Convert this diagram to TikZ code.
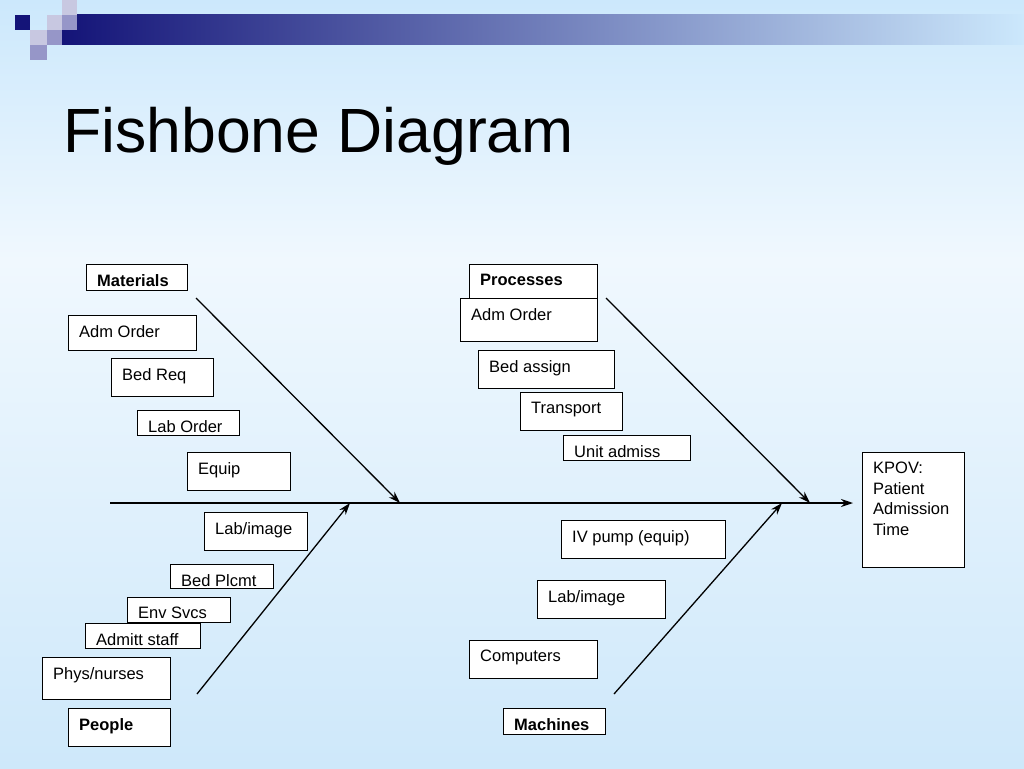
\documentclass[tikz,border=0pt]{standalone}
\usepackage{fontspec}
\setmainfont{Liberation Sans}
\usetikzlibrary{positioning,arrows.meta}
\tikzset{>={Stealth[length=12pt,width=8pt]}}
\definecolor{bgtop}{RGB}{204,232,252}
\definecolor{bgmid}{RGB}{240,248,254}
\definecolor{bgbot}{RGB}{206,232,250}
\definecolor{navy}{RGB}{20,20,120}
\definecolor{lav}{RGB}{200,200,225}
\definecolor{lavmid}{RGB}{150,150,200}
\tikzset{
  box/.style={draw,fill=white,line width=1pt,anchor=north west,inner sep=0pt},
  boxtext/.style={anchor=north west,inner xsep=11pt,inner ysep=10pt,font=\fontsize{16.5}{20.5}\selectfont},
  bone/.style={->,line width=1.3pt,black}
}
% box with text at its top left corner
\newcommand{\catbox}[6]{%
  \node[box,minimum width=#4,minimum height=#5,
    label={[boxtext]north west:#6}] (#1) at (#2,#3) {};}

\begin{document}
\begin{tikzpicture}[x=1pt,y=-1pt]
\useasboundingbox (0,0) rectangle (1024,768);
% background
\shade[top color=bgtop,bottom color=bgmid] (0,0) rectangle (1024,260);
\shade[top color=bgmid,bottom color=bgbot] (0,260) rectangle (1024,768);

% corner ornament
\shade[left color=navy,right color=bgtop] (62,15) rectangle (1024,45);
\fill[lav] (62,0) rectangle (77,15);
\fill[lav] (47,15) rectangle (62,30);
\fill[lavmid] (62,15) rectangle (77,30);
\fill[navy] (15,15) rectangle (30,30);
\fill[lav] (30,30) rectangle (47,45);
\fill[lavmid] (47,30) rectangle (62,45);
\fill[lavmid] (30,45) rectangle (47,60);

% title
\node[anchor=base west,inner sep=0pt,font=\fontsize{62.5}{66}\selectfont] (title) at (63,152) {Fishbone Diagram};

% spine and bones
\coordinate (tail) at (110,503);
\coordinate (head) at (853,503);
\coordinate (m1) at (196,298); \coordinate (m2) at (400,503);
\coordinate (p1) at (606,298); \coordinate (p2) at (810,503);
\coordinate (q1) at (197,694); \coordinate (q2) at (350,503);
\coordinate (c1) at (614,694); \coordinate (c2) at (782,503);
\draw[bone] (tail) -- (head);
\draw[bone] (m1) -- (m2);
\draw[bone] (p1) -- (p2);
\draw[bone] (q1) -- (q2);
\draw[bone] (c1) -- (c2);

% materials
\catbox{materials}{86}{264}{101}{26}{\textbf{Materials}}
\catbox{admorderL}{68}{315}{128}{35}{Adm Order}
\catbox{bedreq}{111}{358}{102}{38}{Bed Req}
\catbox{laborder}{137}{410}{102}{25}{Lab Order}
\catbox{equip}{187}{452}{103}{38}{Equip}

% people
\catbox{labimageL}{204}{512}{103}{38}{Lab/image}
\catbox{bedplcmt}{170}{564}{103}{24}{Bed Plcmt}
\catbox{envsvcs}{127}{597}{103}{25}{Env Svcs}
\catbox{admitt}{85}{623}{115}{25}{Admitt staff}
\catbox{physnurses}{42}{657}{128}{42}{Phys/nurses}
\catbox{people}{68}{708}{102}{38}{\textbf{People}}

% processes
\catbox{processes}{469}{264}{128}{34}{\textbf{Processes}}
\catbox{admorderR}{460}{298}{137}{43}{Adm Order}
\catbox{bedassign}{478}{350}{136}{38}{Bed assign}
\catbox{transport}{520}{392}{102}{38}{Transport}
\catbox{unitadmiss}{563}{435}{127}{25}{Unit admiss}

% machines
\catbox{ivpump}{561}{520}{164}{38}{IV pump (equip)}
\catbox{labimageR}{537}{580}{128}{38}{Lab/image}
\catbox{computers}{469}{640}{128}{38}{Computers}
\catbox{machines}{503}{708}{102}{26}{\textbf{Machines}}

% effect
\node[box,minimum width=102,minimum height=115,
  label={[boxtext,align=left]north west:KPOV:\\Patient\\Admission\\Time}] (kpov) at (862,452) {};
\end{tikzpicture}
\end{document}
